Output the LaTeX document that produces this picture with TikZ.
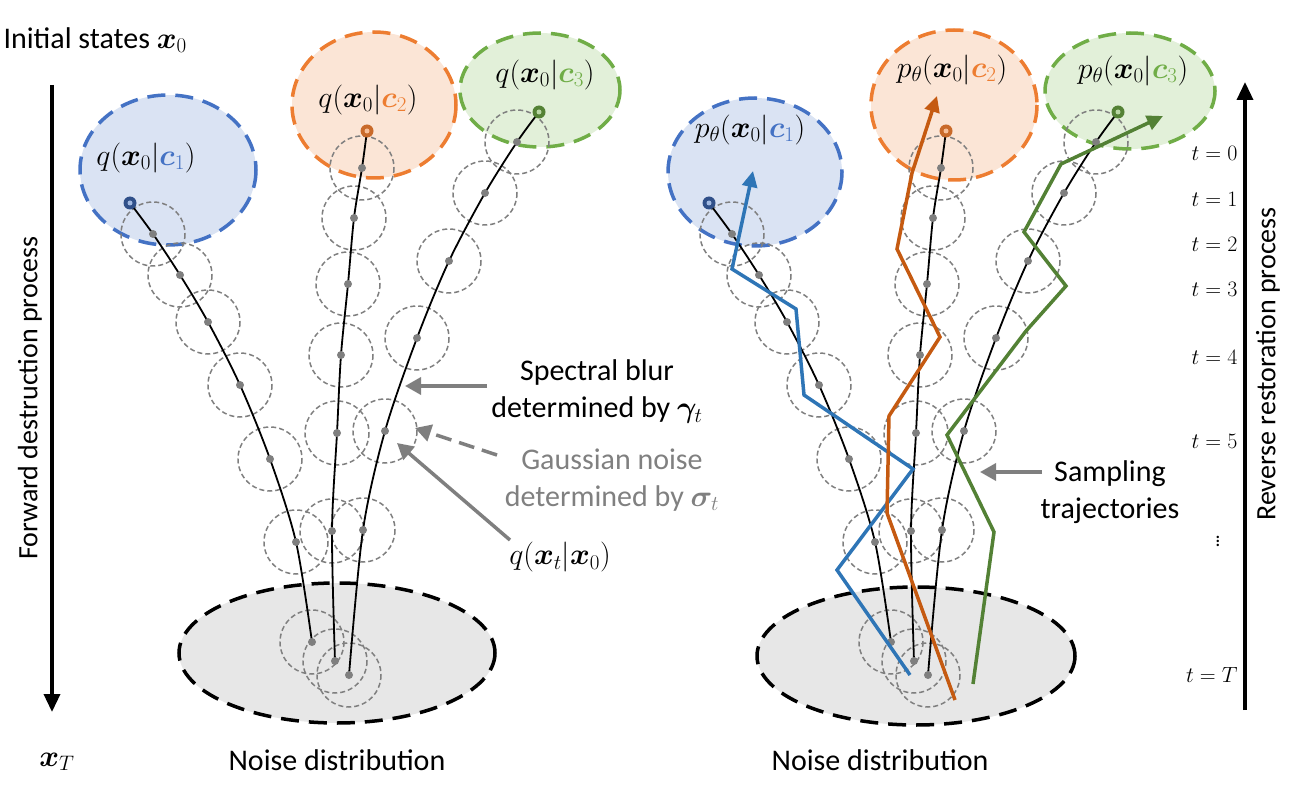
\RequirePackage{fix-cm}
\documentclass[tikz,border=0pt]{standalone}
\usepackage{bm}
\usepackage{fontspec}
\setmainfont{Carlito}
\usetikzlibrary{arrows.meta}
\definecolor{bfill}{HTML}{DAE3F3}\definecolor{bline}{HTML}{4472C4}
\definecolor{ofill}{HTML}{FBE5D6}\definecolor{oline}{HTML}{ED7D31}
\definecolor{gfill}{HTML}{E2F0D9}\definecolor{gline}{HTML}{70AD47}
\definecolor{nfill}{HTML}{E7E7E7}
\definecolor{bz}{HTML}{2E75B6}\definecolor{oz}{HTML}{C55A11}\definecolor{gz}{HTML}{538135}
\definecolor{dotc}{HTML}{7F7F7F}
\begin{document}
\begin{tikzpicture}[x=1pt,y=-1pt,
  big/.style={line width=3.5pt,dash pattern=on 18pt off 10pt},
  blur/.style={draw=dotc,line width=1.5pt,dash pattern=on 5pt off 3pt},
  traj/.style={line width=1.8pt,black},
  zig/.style={line width=3.5pt,line join=miter,-{Triangle[length=16pt,width=15pt]}},
  garr/.style={line width=3.5pt,draw=dotc,-{Triangle[length=16pt,width=17pt]},color=dotc},
  lab/.style={font=\fontsize{30}{37}\selectfont,align=center},
  ax/.style={line width=3.5pt,-{Triangle[length=18pt,width=16pt]}},
  tl/.style={font=\fontsize{22}{26}\selectfont,anchor=east}]
\useasboundingbox (0,0) rectangle (1315,786);
\fill[bfill] (168,170) ellipse [x radius=88,y radius=75];
\draw[big,bline] (168,170) ellipse [x radius=88,y radius=75];
\fill[ofill] (374,105) ellipse [x radius=82,y radius=73];
\draw[big,oline] (374,105) ellipse [x radius=82,y radius=73];
\fill[gfill] (540,90) ellipse [x radius=80,y radius=57];
\draw[big,gline] (540,90) ellipse [x radius=80,y radius=57];
\fill[nfill] (337,653) ellipse [x radius=158,y radius=70];
\draw[big,black] (337,653) ellipse [x radius=158,y radius=70];
\fill[bfill] (755,172) ellipse [x radius=87,y radius=74];
\draw[big,bline] (755,172) ellipse [x radius=87,y radius=74];
\fill[ofill] (954,105) ellipse [x radius=83,y radius=75];
\draw[big,oline] (954,105) ellipse [x radius=83,y radius=75];
\fill[gfill] (1130,91) ellipse [x radius=85,y radius=58];
\draw[big,gline] (1130,91) ellipse [x radius=85,y radius=58];
\fill[nfill] (916,656) ellipse [x radius=159,y radius=69];
\draw[big,black] (916,656) ellipse [x radius=159,y radius=69];
\foreach \s in {0,579}{
\begin{scope}[xshift=\s]
\foreach \p in {(153,234),(180,275),(208,322),(240,385),(270,459),(296,542),(312,642),
 (362,168),(354,218),(348,284),(341,355),(337,433),(332,531),(335,661),
 (517,142),(485,193),(449,261),(417,338),(385,431),(363,530),(349,675)}
 \draw[blur] \p circle (32);
\draw[traj] plot[smooth] coordinates {(130,203)(153,234)(180,275)(208,322)(240,385)(270,459)(296,542)(312,642)};
\draw[traj] plot[smooth] coordinates {(367,131)(362,168)(354,218)(348,284)(341,355)(337,433)(332,531)(335,661)};
\draw[traj] plot[smooth] coordinates {(539,112)(517,142)(485,193)(449,261)(417,338)(385,431)(363,530)(349,675)};
\foreach \p in {(153,234),(180,275),(208,322),(240,385),(270,459),(296,542),(312,642),
 (362,168),(354,218),(348,284),(341,355),(337,433),(332,531),(335,661),
 (517,142),(485,193),(449,261),(417,338),(385,431),(363,530),(349,675)}
 \fill[dotc] \p circle (4);
\fill[bline!70!black] (130,203) circle (6.5); \fill[bline!50] (130,203) circle (2.5);
\fill[oline!85!black] (367,131) circle (6.5); \fill[oline!50] (367,131) circle (2.5);
\fill[gline!75!black] (539,112) circle (6.5); \fill[gline!50] (539,112) circle (2.5);
\end{scope}}
\draw[zig,bz] (910,675)--(837,570)--(913,469)--(804,395)--(796,309)--(732,269)--(753,171);
\draw[zig,oz] (955,700)--(887,513)--(889,416)--(940,337)--(897,249)--(912,173)--(937,96);
\draw[zig,gz] (973,684)--(994,532)--(947,435)--(1026,331)--(1066,286)--(1024,232)--(1061,164)--(1163,116);
\node[lab,anchor=west] (init) at (0,40) {Initial states $\bm{x}_0$};
\node[lab] (q1) at (146,158) {$q(\bm{x}_0|\textcolor{bline}{\bm{c}_1})$};
\node[lab] (q2) at (368,100) {$q(\bm{x}_0|\textcolor{oline}{\bm{c}_2})$};
\node[lab] (q3) at (545,75) {$q(\bm{x}_0|\textcolor{gline}{\bm{c}_3})$};
\node[lab] (p1) at (750,130) {$p_\theta(\bm{x}_0|\textcolor{bline}{\bm{c}_1})$};
\node[lab] (p2) at (952,70) {$p_\theta(\bm{x}_0|\textcolor{oline}{\bm{c}_2})$};
\node[lab] (p3) at (1133,71) {$p_\theta(\bm{x}_0|\textcolor{gline}{\bm{c}_3})$};
\node[lab] (nd1) at (337,760) {Noise distribution};
\node[lab] (nd2) at (880,760) {Noise distribution};
\node[lab] (xT) at (57,762) {$\bm{x}_T$};
\node[lab,rotate=90,font=\fontsize{28}{34}\selectfont] (fwd) at (30,398) {Forward destruction process};
\node[lab,rotate=90,font=\fontsize{28}{34}\selectfont] (rev) at (1268,364) {Reverse restoration process};
\coordinate (fa) at (52,85); \coordinate (fb) at (52,712);
\draw[ax] (fa)--(fb);
\coordinate (ra) at (1245,710); \coordinate (rb) at (1245,82);
\draw[ax] (ra)--(rb);
\node[lab] (sb) at (597,392) {Spectral blur\\determined by $\bm{\gamma}_t$};
\node[lab,text=gray] (gn) at (612,480) {Gaussian noise\\determined by $\bm{\sigma}_t$};
\node[lab] (qt) at (560,557) {$q(\bm{x}_t|\bm{x}_0)$};
\node[lab] (st) at (1110,492) {Sampling\\trajectories};
\coordinate (sbA) at (487,386); \coordinate (sbB) at (405,386);
\draw[garr] (sbA)--(sbB);
\coordinate (gnA) at (497,455); \coordinate (gnB) at (415,428);
\draw[garr,dash pattern=on 16pt off 8pt] (gnA)--(gnB);
\coordinate (qtA) at (510,540); \coordinate (qtB) at (397,443);
\draw[garr] (qtA)--(qtB);
\coordinate (stA) at (1042,472); \coordinate (stB) at (980,472);
\draw[garr] (stA)--(stB);
\foreach \t/\y in {0/153,1/199,2/244,3/289,4/357,5/441,T/675}
 \node[tl] (t\t) at (1241,\y) {$t=\t$};
\node[font=\fontsize{20}{20}\selectfont,inner sep=0pt] (tdots) at (1218,538) {$\vdots$};
\end{tikzpicture}
\end{document}
